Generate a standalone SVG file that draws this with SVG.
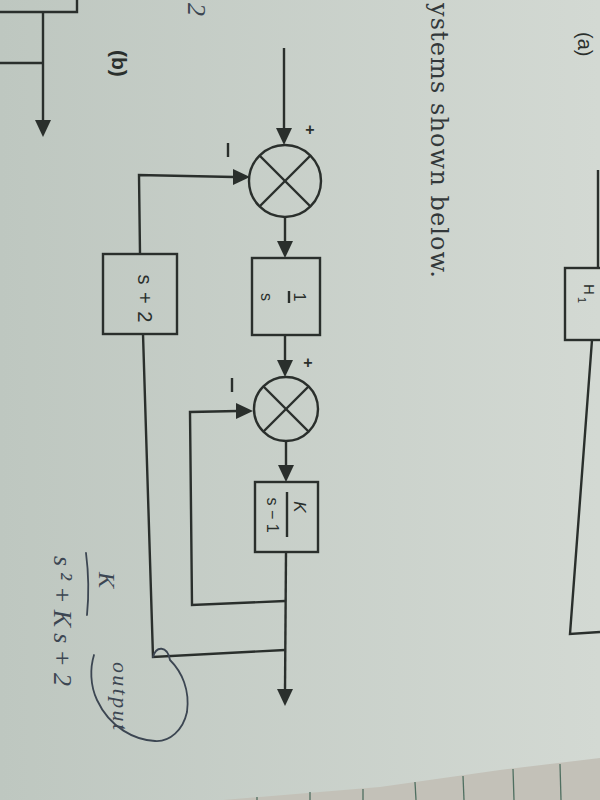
<svg xmlns="http://www.w3.org/2000/svg" width="600" height="800" viewBox="0 0 600 800">
<defs>
  <linearGradient id="paper" x1="0" y1="0" x2="1" y2="0">
    <stop offset="0" stop-color="#bec7c0"/>
    <stop offset="1" stop-color="#d3d9d3"/>
  </linearGradient>
  <path id="ah" d="M0,0 L-8,-17 L8,-17 Z"/>
  <style>
    .ln{fill:none;stroke:#2a2f2c;stroke-width:2.4;stroke-linejoin:miter}
    .bx{fill:none;stroke:#2a2f2c;stroke-width:2.4}
    .ar{fill:#2a2f2c}
    .t{font-family:"Liberation Sans",Arial,sans-serif;fill:#2a2f2c}
    .pr{font-family:"DejaVu Serif","Liberation Serif",serif;fill:#33383a}
    .hw{font-family:"Liberation Serif",serif;font-style:italic;fill:#3c4652}
    .hl{fill:none;stroke:#3c4652;stroke-width:1.8;stroke-linecap:round}
    .grid{stroke:#4f6f60;stroke-width:1.3}
  </style>
</defs>

<!-- page -->
<rect x="0" y="0" width="600" height="800" fill="url(#paper)"/>
<!-- grid paper strip at bottom -->
<polygon points="223,800 380,787 500,770 600,758 600,800" fill="#c3c1b8"/>
<g class="grid">
  <line x1="257" y1="797" x2="257" y2="800"/>
  <line x1="310" y1="792" x2="310" y2="800"/>
  <line x1="363" y1="789" x2="363" y2="800"/>
  <line x1="415" y1="782" x2="416" y2="800"/>
  <line x1="463" y1="776" x2="464" y2="800"/>
  <line x1="513" y1="769" x2="514" y2="800"/>
  <line x1="560" y1="764" x2="561" y2="800"/>
</g>

<!-- printed caption -->
<g transform="translate(431,0) rotate(90)">
  <text class="pr" x="3" y="0" font-size="24" textLength="275" lengthAdjust="spacing">ystems shown below.</text>
</g>
<g transform="translate(578,32) rotate(90)">
  <text class="t" x="0" y="0" font-size="20">(a)</text>
</g>
<g transform="translate(112,50) rotate(90)">
  <text class="t" x="0" y="0" font-size="21" font-weight="bold">(b)</text>
</g>

<!-- partial diagram (a) on the right -->
<g id="a_part">
  <line class="ln" x1="598" y1="170" x2="598" y2="268"/>
  <rect class="bx" x="565" y="268" width="45" height="72"/>
  <g transform="translate(584,284) rotate(90)">
    <text class="t" x="0" y="0" font-size="15">H</text>
  </g>
  <g transform="translate(578,297) rotate(90)">
    <text class="t" x="0" y="0" font-size="11">1</text>
  </g>
  <polyline class="ln" points="592,340 570,634 600,632"/>
</g>

<!-- partial diagram top-left -->
<g id="tl_part">
  <polyline class="ln" points="0,12 77,12 77,0"/>
  <line class="ln" x1="43" y1="12" x2="43" y2="122"/>
  <line class="ln" x1="0" y1="63" x2="43" y2="63"/>
  <use href="#ah" class="ar" transform="translate(43,137)"/>
</g>

<!-- handwritten 2 -->
<g transform="translate(188,3) rotate(90)">
  <text class="hw" x="0" y="0" font-size="26">2</text>
</g>

<!-- connectors -->
<g id="connectors">
  <line class="ln" x1="284" y1="48" x2="284" y2="130"/>
  <use href="#ah" class="ar" transform="translate(284,145)"/>
  <line class="ln" x1="285" y1="217" x2="285" y2="244"/>
  <use href="#ah" class="ar" transform="translate(285,258)"/>
  <line class="ln" x1="285" y1="335" x2="285" y2="362"/>
  <use href="#ah" class="ar" transform="translate(285,377)"/>
  <line class="ln" x1="286" y1="441" x2="286" y2="467"/>
  <use href="#ah" class="ar" transform="translate(286,482)"/>
  <line class="ln" x1="286" y1="552" x2="285" y2="690"/>
  <use href="#ah" class="ar" transform="translate(285,706)"/>
  <!-- inner feedback -->
  <polyline class="ln" points="285,601 192,605 190,412 238,411"/>
  <use href="#ah" class="ar" transform="translate(253,411) rotate(-90)"/>
  <!-- outer feedback -->
  <polyline class="ln" points="285,650 153,657 143,334"/>
  <polyline class="ln" points="140,254 139,175 234,177"/>
  <use href="#ah" class="ar" transform="translate(250,177) rotate(-90)"/>
</g>

<!-- summing junction 1 -->
<g id="sum1">
  <circle class="bx" cx="285" cy="181" r="36"/>
  <line class="ln" x1="260" y1="156" x2="310" y2="206"/>
  <line class="ln" x1="310" y1="156" x2="260" y2="206"/>
  <text class="t" x="310" y="135" font-size="16" font-weight="bold" text-anchor="middle">+</text>
  <line class="ln" x1="228" y1="143" x2="228" y2="157"/>
</g>

<!-- block 1/s -->
<g id="block_int">
  <rect class="bx" x="252" y="258" width="68" height="77"/>
  <g transform="translate(286,297) rotate(90)">
    <text class="t" x="0" y="-8" font-size="16" text-anchor="middle">1</text>
    <line class="ln" x1="-6" y1="-3" x2="6" y2="-3" stroke-width="2"/>
    <text class="t" x="0" y="25" font-size="16" text-anchor="middle">s</text>
  </g>
</g>

<!-- summing junction 2 -->
<g id="sum2">
  <circle class="bx" cx="286" cy="409" r="32"/>
  <line class="ln" x1="263" y1="386" x2="309" y2="432"/>
  <line class="ln" x1="309" y1="386" x2="263" y2="432"/>
  <text class="t" x="308" y="368" font-size="16" font-weight="bold" text-anchor="middle">+</text>
  <line class="ln" x1="232" y1="378" x2="232" y2="392"/>
</g>

<!-- block K/(s-1) -->
<g id="block_plant">
  <rect class="bx" x="255" y="482" width="63" height="70"/>
  <g transform="translate(287,515) rotate(90)">
    <text class="t" x="-8" y="-7" font-size="17" font-style="italic" text-anchor="middle">K</text>
    <line class="ln" x1="-23" y1="0" x2="22" y2="0" stroke-width="2"/>
    <text class="t" x="0" y="20" font-size="16" text-anchor="middle">s − 1</text>
  </g>
</g>

<!-- block s+2 -->
<g id="block_fb">
  <rect class="bx" x="103" y="254" width="74" height="80"/>
  <g transform="translate(138,299) rotate(90)">
    <text class="t" x="0" y="0" font-size="20" text-anchor="middle" letter-spacing="1">s + 2</text>
  </g>
</g>

<!-- handwritten annotation -->
<g id="note">
  <g transform="translate(99,572) rotate(90)">
    <text class="hw" x="0" y="0" font-size="24">K</text>
  </g>
  <path class="hl" d="M86,553 Q90,584 87,615"/>
  <g transform="translate(54,556) rotate(90)">
    <text class="hw" x="0" y="0" font-size="26" textLength="130" lengthAdjust="spacing">s²+Ks+2</text>
  </g>
  <path class="hl" stroke="#5c6468" stroke-width="1.5" d="M153,657 C156,646 167,645 170,660 C182,672 190,690 187,712 C183,730 170,742 155,741 C135,740 110,728 97,700 C90,685 90,668 94,655"/>
  <g transform="translate(113,662) rotate(90)">
    <text class="hw" x="0" y="0" font-size="22" fill="#4d565a" textLength="68" lengthAdjust="spacing">output</text>
  </g>
</g>
</svg>
